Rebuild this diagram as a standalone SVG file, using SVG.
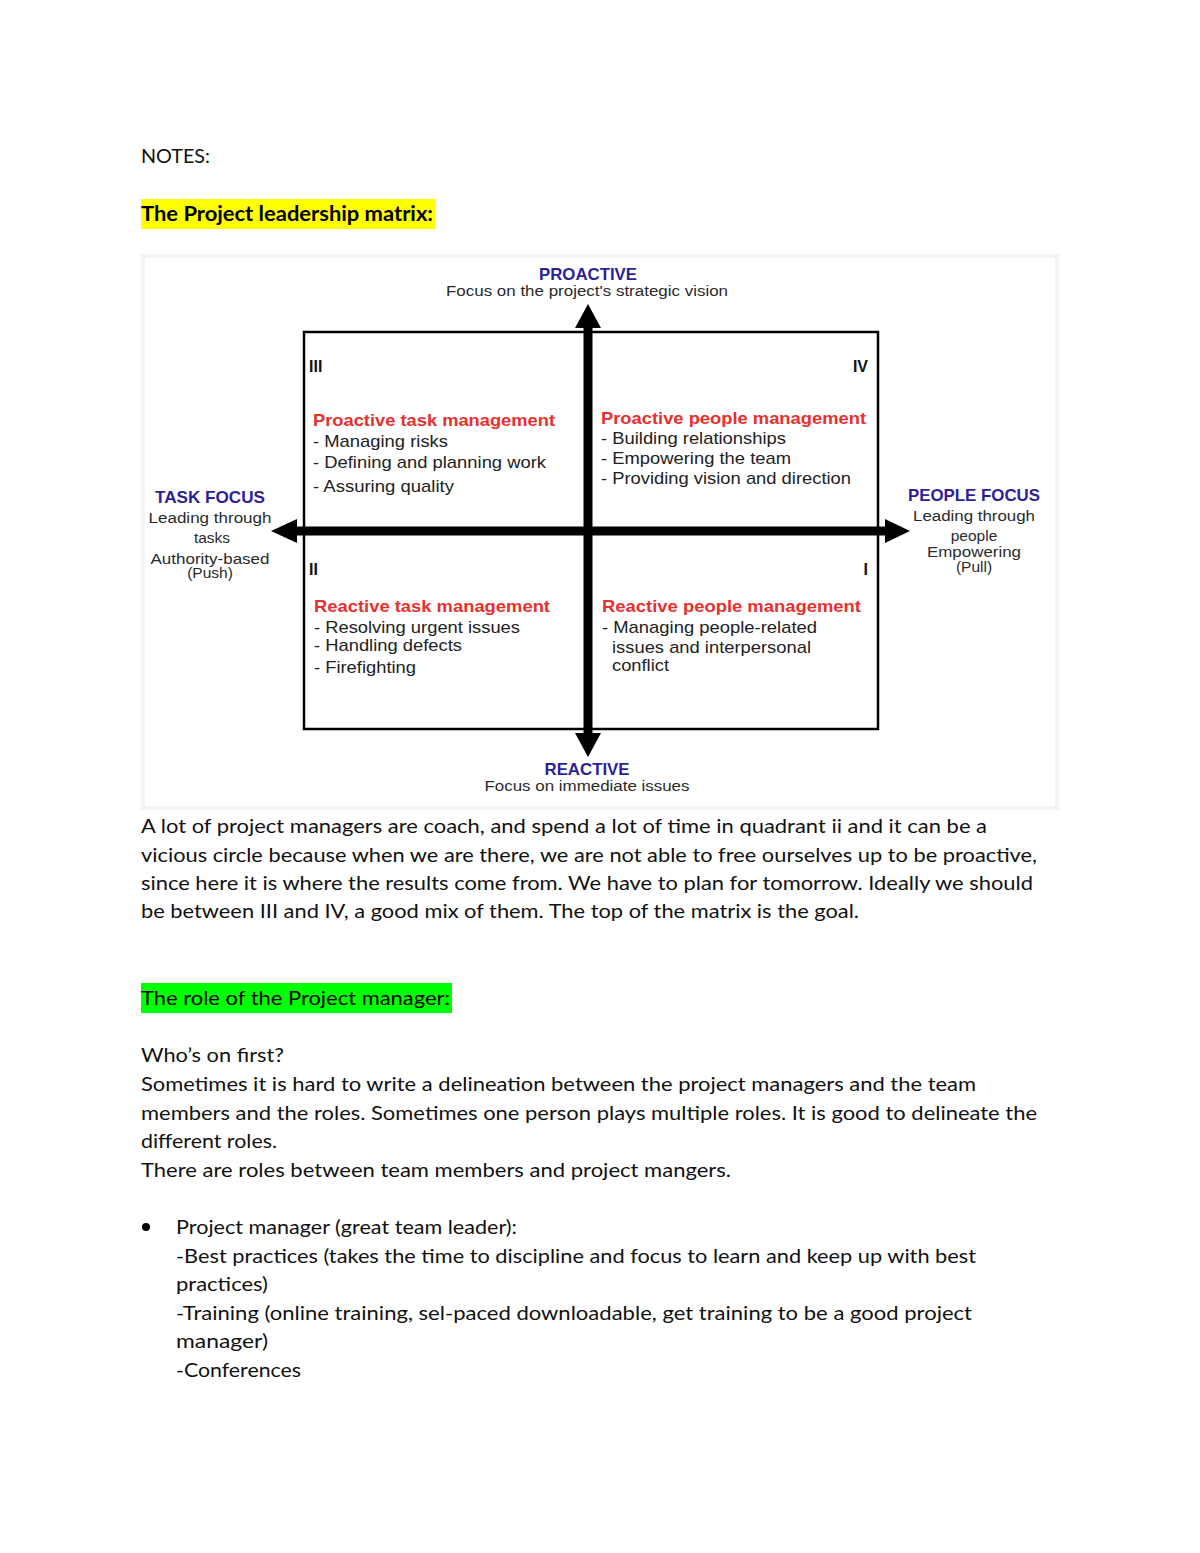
<svg xmlns="http://www.w3.org/2000/svg" width="1200" height="1553" viewBox="0 0 1200 1553">
<style>
.body{font-family:Lato,"Open Sans","Liberation Sans",sans-serif;font-size:20px;fill:#111}
.hd{font-family:Lato,"Open Sans","Liberation Sans",sans-serif;font-size:20px;fill:#000}
.ax{font-family:"Liberation Sans",Arial,sans-serif;font-size:16.5px;font-weight:bold;fill:#2d1f96}
.sub{font-family:"Liberation Sans",Arial,sans-serif;font-size:15.5px;fill:#2a2a2a}
.qt{font-family:"Liberation Sans",Arial,sans-serif;font-size:17px;font-weight:bold;fill:#e8302e}
.it{font-family:"Liberation Sans",Arial,sans-serif;font-size:17px;fill:#222}
.num{font-family:"Liberation Sans",Arial,sans-serif;font-size:16px;font-weight:bold;fill:#111}
</style>
<rect width="1200" height="1553" fill="#fff"/>

<g id="notes">
<text class="body" x="141" y="163" textLength="69" lengthAdjust="spacingAndGlyphs">NOTES:</text>
</g>
<g id="heading1">
<rect x="141" y="199" width="294" height="30" fill="#ffff00"/>
<text class="hd" x="141" y="221" font-weight="bold" textLength="292" lengthAdjust="spacingAndGlyphs">The Project leadership matrix:</text>
</g>

<g id="matrix">
<rect x="143" y="256" width="914" height="552" fill="#fff" stroke="#f4f4f4" stroke-width="4"/>
<rect id="box" x="304" y="332" width="574" height="397" fill="#fff" stroke="#000" stroke-width="2.5"/>
<g id="connectors">
<line x1="588" y1="530" x2="588" y2="328" stroke="#000" stroke-width="9"/>
<polygon points="575,328 601,328 588,304" fill="#000"/>
<line x1="588" y1="532" x2="588" y2="734" stroke="#000" stroke-width="9"/>
<polygon points="575,733 601,733 588,757" fill="#000"/>
<line x1="588" y1="531" x2="296" y2="531" stroke="#000" stroke-width="9"/>
<polygon points="297,519 297,543 271,531" fill="#000"/>
<line x1="588" y1="531" x2="886" y2="531" stroke="#000" stroke-width="9"/>
<polygon points="885,519 885,543 910,531" fill="#000"/>
</g>

<g id="proactive">
<text class="ax" x="588" y="280" text-anchor="middle" textLength="98" lengthAdjust="spacingAndGlyphs">PROACTIVE</text>
<text class="sub" x="587" y="296" text-anchor="middle" textLength="282" lengthAdjust="spacingAndGlyphs">Focus on the project's strategic vision</text>
</g>
<g id="reactive">
<text class="ax" x="587" y="775" text-anchor="middle" textLength="85" lengthAdjust="spacingAndGlyphs">REACTIVE</text>
<text class="sub" x="587" y="791" text-anchor="middle" textLength="205" lengthAdjust="spacingAndGlyphs">Focus on immediate issues</text>
</g>
<g id="taskfocus">
<text class="ax" x="210" y="503" text-anchor="middle" textLength="110" lengthAdjust="spacingAndGlyphs">TASK FOCUS</text>
<text class="sub" x="210" y="523" text-anchor="middle" textLength="123" lengthAdjust="spacingAndGlyphs">Leading through</text>
<text class="sub" x="212" y="543" text-anchor="middle">tasks</text>
<text class="sub" x="210" y="564" text-anchor="middle" textLength="119" lengthAdjust="spacingAndGlyphs">Authority-based</text>
<text class="sub" x="210" y="578" text-anchor="middle">(Push)</text>
</g>
<g id="peoplefocus">
<text class="ax" x="974" y="501" text-anchor="middle" textLength="132" lengthAdjust="spacingAndGlyphs">PEOPLE FOCUS</text>
<text class="sub" x="974" y="521" text-anchor="middle" textLength="122" lengthAdjust="spacingAndGlyphs">Leading through</text>
<text class="sub" x="974" y="541" text-anchor="middle">people</text>
<text class="sub" x="974" y="557" text-anchor="middle" textLength="94" lengthAdjust="spacingAndGlyphs">Empowering</text>
<text class="sub" x="974" y="572" text-anchor="middle">(Pull)</text>
</g>

<g id="q3">
<text class="num" x="309" y="372">III</text>
<text class="qt" x="313" y="426" textLength="242" lengthAdjust="spacingAndGlyphs">Proactive task management</text>
<text class="it" x="313" y="447" textLength="135" lengthAdjust="spacingAndGlyphs">- Managing risks</text>
<text class="it" x="313" y="468" textLength="233" lengthAdjust="spacingAndGlyphs">- Defining and planning work</text>
<text class="it" x="313" y="492" textLength="141" lengthAdjust="spacingAndGlyphs">- Assuring quality</text>
</g>
<g id="q4">
<text class="num" x="868" y="372" text-anchor="end">IV</text>
<text class="qt" x="601" y="424" textLength="265" lengthAdjust="spacingAndGlyphs">Proactive people management</text>
<text class="it" x="601" y="444" textLength="185" lengthAdjust="spacingAndGlyphs">- Building relationships</text>
<text class="it" x="601" y="464" textLength="190" lengthAdjust="spacingAndGlyphs">- Empowering the team</text>
<text class="it" x="601" y="484" textLength="250" lengthAdjust="spacingAndGlyphs">- Providing vision and direction</text>
</g>
<g id="q2">
<text class="num" x="309" y="575">II</text>
<text class="qt" x="314" y="612" textLength="236" lengthAdjust="spacingAndGlyphs">Reactive task management</text>
<text class="it" x="314" y="633" textLength="206" lengthAdjust="spacingAndGlyphs">- Resolving urgent issues</text>
<text class="it" x="314" y="651" textLength="148" lengthAdjust="spacingAndGlyphs">- Handling defects</text>
<text class="it" x="314" y="673" textLength="102" lengthAdjust="spacingAndGlyphs">- Firefighting</text>
</g>
<g id="q1">
<text class="num" x="868" y="575" text-anchor="end">I</text>
<text class="qt" x="602" y="612" textLength="259" lengthAdjust="spacingAndGlyphs">Reactive people management</text>
<text class="it" x="602" y="633" textLength="215" lengthAdjust="spacingAndGlyphs">- Managing people-related</text>
<text class="it" x="612" y="653" textLength="199" lengthAdjust="spacingAndGlyphs">issues and interpersonal</text>
<text class="it" x="612" y="671" textLength="57" lengthAdjust="spacingAndGlyphs">conflict</text>
</g>
</g>

<g id="para1">
<text class="body" x="141" y="833" textLength="846" lengthAdjust="spacingAndGlyphs">A lot of project managers are coach, and spend a lot of time in quadrant ii and it can be a</text>
<text class="body" x="141" y="862" textLength="896" lengthAdjust="spacingAndGlyphs">vicious circle because when we are there, we are not able to free ourselves up to be proactive,</text>
<text class="body" x="141" y="890" textLength="892" lengthAdjust="spacingAndGlyphs">since here it is where the results come from. We have to plan for tomorrow. Ideally we should</text>
<text class="body" x="141" y="918" textLength="718" lengthAdjust="spacingAndGlyphs">be between III and IV, a good mix of them. The top of the matrix is the goal.</text>
</g>

<g id="heading2">
<rect x="141" y="983" width="311" height="30" fill="#00ff00"/>
<text class="hd" x="141" y="1005" textLength="309" lengthAdjust="spacingAndGlyphs">The role of the Project manager:</text>
</g>

<g id="para2">
<text class="body" x="141" y="1062" textLength="143" lengthAdjust="spacingAndGlyphs">Who’s on first?</text>
<text class="body" x="141" y="1091" textLength="835" lengthAdjust="spacingAndGlyphs">Sometimes it is hard to write a delineation between the project managers and the team</text>
<text class="body" x="141" y="1120" textLength="896" lengthAdjust="spacingAndGlyphs">members and the roles. Sometimes one person plays multiple roles. It is good to delineate the</text>
<text class="body" x="141" y="1148" textLength="136" lengthAdjust="spacingAndGlyphs">different roles.</text>
<text class="body" x="141" y="1177" textLength="590" lengthAdjust="spacingAndGlyphs">There are roles between team members and project mangers.</text>
</g>

<g id="bullets">
<circle cx="146" cy="1227" r="4" fill="#000"/>
<text class="body" x="176" y="1234" textLength="341" lengthAdjust="spacingAndGlyphs">Project manager (great team leader):</text>
<text class="body" x="176" y="1263" textLength="800" lengthAdjust="spacingAndGlyphs">-Best practices (takes the time to discipline and focus to learn and keep up with best</text>
<text class="body" x="176" y="1291" textLength="92" lengthAdjust="spacingAndGlyphs">practices)</text>
<text class="body" x="176" y="1320" textLength="796" lengthAdjust="spacingAndGlyphs">-Training (online training, sel-paced downloadable, get training to be a good project</text>
<text class="body" x="176" y="1348" textLength="92" lengthAdjust="spacingAndGlyphs">manager)</text>
<text class="body" x="176" y="1377" textLength="125" lengthAdjust="spacingAndGlyphs">-Conferences</text>
</g>
</svg>
